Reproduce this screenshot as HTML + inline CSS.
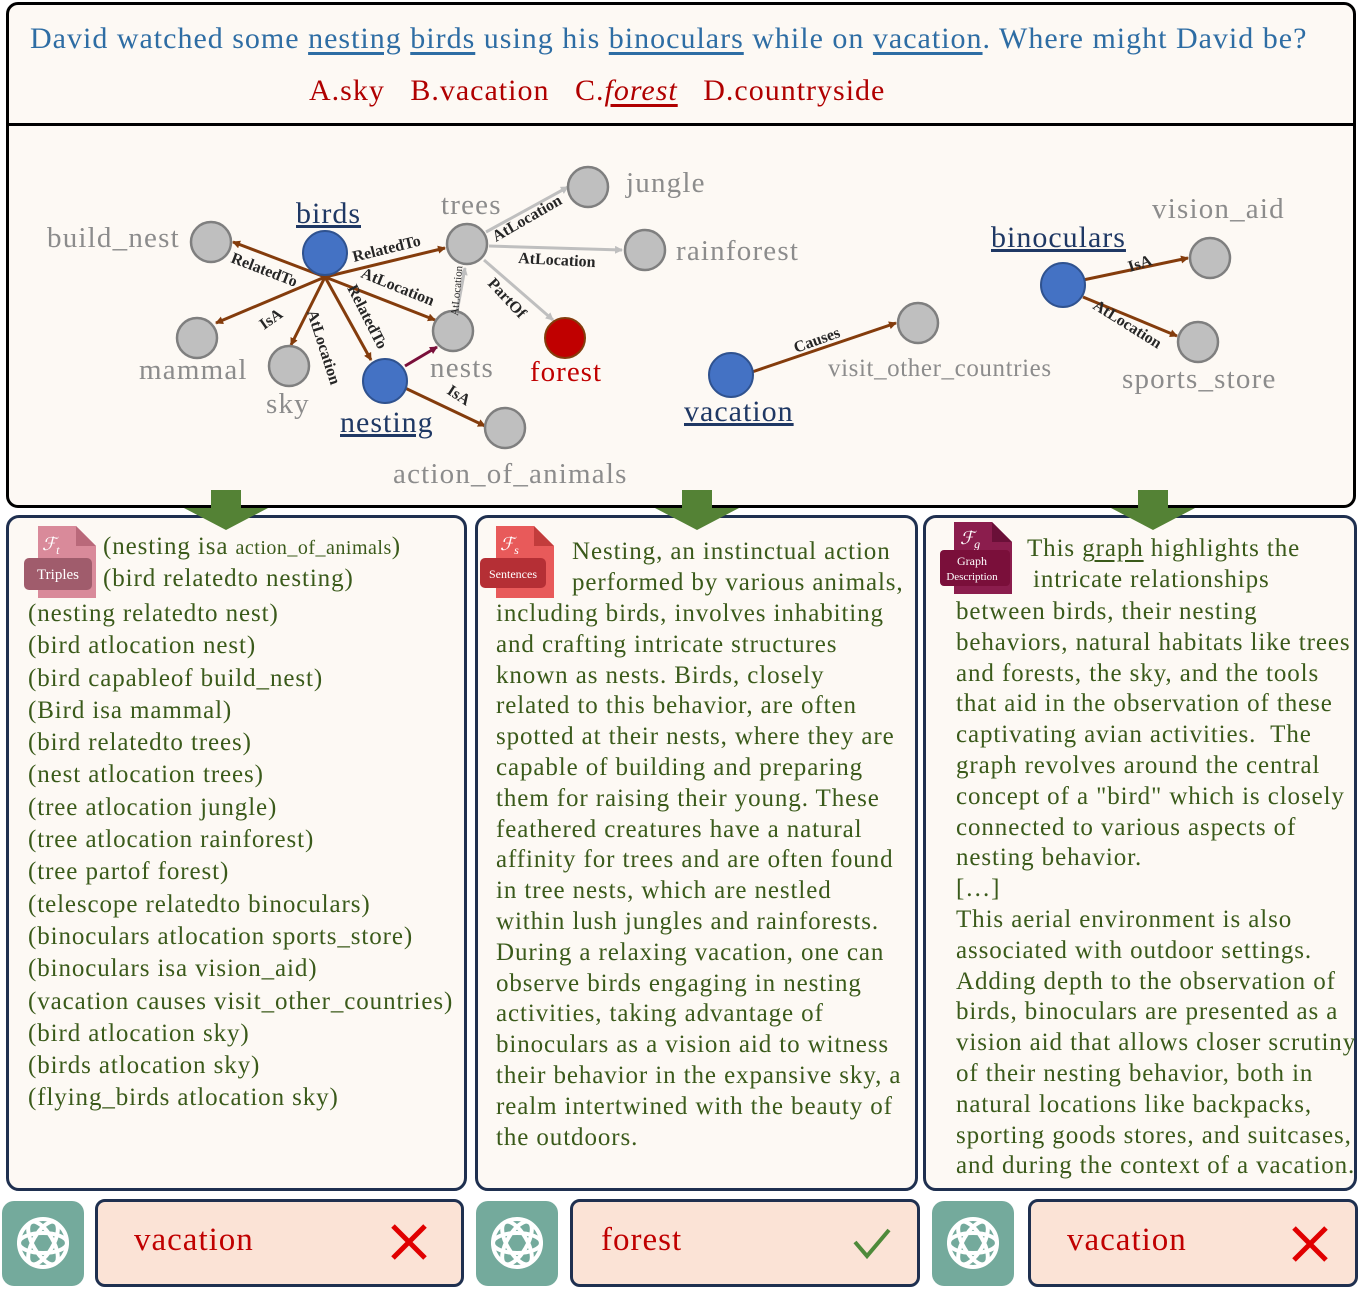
<!DOCTYPE html>
<html><head><meta charset="utf-8"><style>
body{margin:0;width:1360px;height:1294px;background:#fff;position:relative;overflow:hidden;font-family:"Liberation Serif",serif}
.abs{position:absolute}
.panel{position:absolute;border:3px solid #1f3050;border-radius:13px;background:#fdf9f4;box-sizing:border-box}
.ln{position:absolute;white-space:nowrap;color:#3a5a1a;font-size:25px;letter-spacing:0.9px}
.ans{position:absolute;border:3px solid #1f3050;border-radius:10px;background:#fbe3d6;box-sizing:border-box;height:88px;top:1199px}
.ans span{position:absolute;left:36px;top:20px;font-size:33px;letter-spacing:1px;color:#c00000}
.u{text-decoration:underline;text-underline-offset:4px}
</style></head><body>
<div class="abs" style="left:6px;top:2px;width:1350px;height:506px;border:3px solid #000;border-radius:12px;background:#fdf9f4;box-sizing:border-box"></div>
<div class="abs" style="left:6px;top:123px;width:1350px;height:3px;background:#000"></div>
<div class="abs" style="left:30px;top:22px;font-size:30px;letter-spacing:1px;color:#2e6da4;white-space:nowrap">David watched some <span class="u">nesting</span> <span class="u">birds</span> using his <span class="u">binoculars</span> while on <span class="u">vacation</span>. Where might David be?</div>
<div class="abs" style="left:309px;top:74px;font-size:30px;letter-spacing:1px;color:#b00000;white-space:nowrap">A.sky&nbsp;&nbsp;&nbsp;B.vacation&nbsp;&nbsp;&nbsp;C.<i class="u">forest</i>&nbsp;&nbsp;&nbsp;D.countryside</div>

<svg class="abs" style="left:0;top:0" width="1360" height="540" viewBox="0 0 1360 540">
<defs>
<marker id="mb" markerWidth="8" markerHeight="8" refX="7" refY="4" orient="auto" markerUnits="userSpaceOnUse"><path d="M0,0L8,4L0,8z" fill="#843c0c"/></marker>
<marker id="mg" markerWidth="8" markerHeight="8" refX="7" refY="4" orient="auto" markerUnits="userSpaceOnUse"><path d="M0,0L8,4L0,8z" fill="#bfbfbf"/></marker>
<marker id="mp" markerWidth="8" markerHeight="8" refX="7" refY="4" orient="auto" markerUnits="userSpaceOnUse"><path d="M0,0L8,4L0,8z" fill="#7a0f3a"/></marker>
</defs>
<g stroke="#843c0c" stroke-width="3" marker-end="url(#mb)">
<line x1="325" y1="277" x2="233" y2="242"/>
<line x1="325" y1="277" x2="216" y2="323"/>
<line x1="325" y1="277" x2="291" y2="345"/>
<line x1="325" y1="277" x2="371" y2="360"/>
<line x1="325" y1="277" x2="435" y2="320"/>
<line x1="325" y1="277" x2="445" y2="248"/>
<line x1="405" y1="388" x2="485" y2="426"/>
<line x1="752" y1="372" x2="896" y2="323"/>
<line x1="1083" y1="280" x2="1188" y2="258"/>
<line x1="1083" y1="297" x2="1177" y2="336"/>
</g>
<line x1="405" y1="366" x2="437" y2="347" stroke="#7a0f3a" stroke-width="3" marker-end="url(#mp)"/>
<g stroke="#bfbfbf" stroke-width="3" marker-end="url(#mg)">
<line x1="486" y1="232" x2="568" y2="187"/>
<line x1="489" y1="246" x2="622" y2="250"/>
<line x1="484" y1="260" x2="553" y2="320"/>
<line x1="457" y1="312" x2="465" y2="268"/>
</g>
<g stroke="#7f7f7f" stroke-width="2.5" fill="#bfbfbf">
<circle cx="211" cy="242" r="20"/><circle cx="197" cy="338" r="20"/><circle cx="289" cy="366" r="20"/>
<circle cx="453" cy="331" r="20"/><circle cx="467" cy="244" r="20"/><circle cx="588" cy="187" r="20"/>
<circle cx="645" cy="250" r="20"/><circle cx="505" cy="428" r="20"/><circle cx="918" cy="323" r="20"/>
<circle cx="1210" cy="258" r="20"/><circle cx="1198" cy="342" r="20"/>
</g>
<g stroke="#2f528f" stroke-width="2" fill="#4472c4">
<circle cx="325" cy="253" r="22"/><circle cx="385" cy="381" r="22"/><circle cx="731" cy="375" r="22"/><circle cx="1063" cy="285" r="22"/>
</g>
<circle cx="565" cy="338" r="20" fill="#c00000" stroke="#843c0c" stroke-width="2"/>
<g font-family="Liberation Serif,serif" font-weight="bold" font-size="16" fill="#262626">
<text transform="translate(230,262) rotate(21)">RelatedTo</text>
<text transform="translate(264,330) rotate(-35)">IsA</text>
<text transform="translate(307,312) rotate(72)">AtLocation</text>
<text transform="translate(347,288) rotate(63)">RelatedTo</text>
<text transform="translate(360,277) rotate(22)">AtLocation</text>
<text transform="translate(354,262) rotate(-14)">RelatedTo</text>
<text transform="translate(446,393) rotate(33)">IsA</text>
<text transform="translate(496,242) rotate(-30)">AtLocation</text>
<text transform="translate(518,263) rotate(3)">AtLocation</text>
<text transform="translate(487,284) rotate(47)">PartOf</text>
<text transform="translate(796,353) rotate(-20)">Causes</text>
<text transform="translate(1130,272) rotate(-18)">IsA</text>
<text transform="translate(1092,308) rotate(32)">AtLocation</text>
</g>
<text transform="translate(458,316) rotate(-85)" font-family="Liberation Serif,serif" font-size="11" fill="#262626">AtLocation</text>
<g font-family="Liberation Serif,serif" font-size="29" letter-spacing="1.2" fill="#8c8c8c">
<text x="47" y="247">build_nest</text><text x="441" y="214">trees</text><text x="626" y="192">jungle</text>
<text x="676" y="260">rainforest</text><text x="139" y="379">mammal</text><text x="266" y="413">sky</text>
<text x="430" y="377">nests</text><text x="393" y="483">action_of_animals</text>
<text x="828" y="376" font-size="25" letter-spacing="0.6">visit_other_countries</text>
<text x="1152" y="218">vision_aid</text><text x="1122" y="388">sports_store</text>
</g>
<text x="530" y="381" font-family="Liberation Serif,serif" font-size="29" letter-spacing="1" fill="#c00000">forest</text>
<g font-family="Liberation Serif,serif" font-size="30" letter-spacing="1" fill="#1f3864" text-decoration="underline">
<text x="296" y="223">birds</text><text x="340" y="432">nesting</text><text x="684" y="421">vacation</text><text x="991" y="247">binoculars</text>
</g>
</svg>

<div class="panel" style="left:6px;top:515px;width:461px;height:676px"></div>
<div class="panel" style="left:475px;top:515px;width:443px;height:676px"></div>
<div class="panel" style="left:923px;top:515px;width:434px;height:676px"></div>

<svg class="abs" style="left:0;top:488px" width="1360" height="45">
<g fill="#548235">
<path d="M211,2h30v18h27l-42,22l-42,-22h27z"/>
<path d="M682,2h30v18h27l-42,22l-42,-22h27z"/>
<path d="M1138,2h30v18h27l-42,22l-42,-22h27z"/>
</g>
</svg>

<svg class="abs" style="left:20px;top:526px" width="80" height="76">
<path d="M18,0h38l20,20v52h-58z" fill="#d98a9a"/><path d="M56,0v20h20z" fill="#b9697a"/>
<text x="22" y="24" font-family="Liberation Serif,serif" font-style="italic" font-size="18" fill="#fff">ℱ<tspan font-size="12" dy="4">t</tspan></text>
<rect x="4" y="32" width="68" height="32" rx="5" fill="#a05c6c"/>
<text x="38" y="53" text-anchor="middle" font-family="Liberation Serif,serif" font-size="15" fill="#fff">Triples</text>
</svg>
<svg class="abs" style="left:480px;top:526px" width="80" height="76">
<path d="M16,0h38l20,20v52h-58z" fill="#e85a5a"/><path d="M54,0v20h20z" fill="#c23c3c"/>
<text x="20" y="24" font-family="Liberation Serif,serif" font-style="italic" font-size="18" fill="#fff">ℱ<tspan font-size="12" dy="4">s</tspan></text>
<rect x="0" y="32" width="66" height="30" rx="5" fill="#b52f35"/>
<text x="33" y="52" text-anchor="middle" font-family="Liberation Serif,serif" font-size="12" fill="#fff">Sentences</text>
</svg>
<svg class="abs" style="left:938px;top:522px" width="80" height="76">
<path d="M16,0h38l20,20v52h-58z" fill="#8b1d4d"/><path d="M54,0v20h20z" fill="#6a1038"/>
<text x="22" y="22" font-family="Liberation Serif,serif" font-style="italic" font-size="18" fill="#fff">ℱ<tspan font-size="12" dy="4">g</tspan></text>
<rect x="2" y="28" width="70" height="36" rx="4" fill="#7a0f3a"/>
<text x="34" y="43" text-anchor="middle" font-family="Liberation Serif,serif" font-size="12" fill="#fff">Graph</text>
<text x="34" y="58" text-anchor="middle" font-family="Liberation Serif,serif" font-size="11" fill="#fff">Description</text>
</svg>

<div class="ln" style="left:103px;top:533px">(nesting isa <span style="font-size:20px;letter-spacing:0.5px">action_of_animals</span>)</div>
<div class="ln" style="left:103px;top:565px">(bird relatedto nesting)</div>
<div class="ln" style="left:28px;top:598px;line-height:32.3px">(nesting relatedto nest)<br>(bird atlocation nest)<br>(bird capableof build_nest)<br>(Bird isa mammal)<br>(bird relatedto trees)<br>(nest atlocation trees)<br>(tree atlocation jungle)<br>(tree atlocation rainforest)<br>(tree partof forest)<br>(telescope relatedto binoculars)<br>(binoculars atlocation sports_store)<br>(binoculars isa vision_aid)<br>(vacation causes visit_other_countries)<br>(bird atlocation sky)<br>(birds atlocation sky)<br>(flying_birds atlocation sky)</div>

<div class="ln" style="left:572px;top:537px;line-height:30.8px">Nesting, an instinctual action<br>performed by various animals,</div>
<div class="ln" style="left:496px;top:599px;line-height:30.8px">including birds, involves inhabiting<br>and crafting intricate structures<br>known as nests. Birds, closely<br>related to this behavior, are often<br>spotted at their nests, where they are<br>capable of building and preparing<br>them for raising their young. These<br>feathered creatures have a natural<br>affinity for trees and are often found<br>in tree nests, which are nestled<br>within lush jungles and rainforests.<br>During a relaxing vacation, one can<br>observe birds engaging in nesting<br>activities, taking advantage of<br>binoculars as a vision aid to witness<br>their behavior in the expansive sky, a<br>realm intertwined with the beauty of<br>the outdoors.</div>

<div class="ln" style="left:1027px;top:535px">This <span class="u">graph</span> highlights the</div>
<div class="ln" style="left:1033px;top:566px">intricate relationships</div>
<div class="ln" style="left:956px;top:597px;line-height:30.8px">between birds, their nesting<br>behaviors, natural habitats like trees<br>and forests, the sky, and the tools<br>that aid in the observation of these<br>captivating avian activities.&nbsp; The<br>graph revolves around the central<br>concept of a "bird" which is closely<br>connected to various aspects of<br>nesting behavior.<br>[…]<br>This aerial environment is also<br>associated with outdoor settings.<br>Adding depth to the observation of<br>birds, binoculars are presented as a<br>vision aid that allows closer scrutiny<br>of their nesting behavior, both in<br>natural locations like backpacks,<br>sporting goods stores, and suitcases,<br>and during the context of a vacation.</div>

<svg class="abs" style="left:0;top:1198px" width="1360" height="96">
<g fill="#74aa9c"><rect x="2" y="3" width="82" height="85" rx="12"/><rect x="476" y="3" width="82" height="85" rx="12"/><rect x="932" y="3" width="82" height="85" rx="12"/></g>
<g fill="none" stroke="#fff" stroke-width="4">
<g transform="translate(43,45)"><circle r="24"/><ellipse rx="10" ry="24" transform="rotate(30)"/><ellipse rx="10" ry="24" transform="rotate(-30)"/><ellipse rx="10" ry="24" transform="rotate(90)"/></g>
<g transform="translate(517,45)"><circle r="24"/><ellipse rx="10" ry="24" transform="rotate(30)"/><ellipse rx="10" ry="24" transform="rotate(-30)"/><ellipse rx="10" ry="24" transform="rotate(90)"/></g>
<g transform="translate(973,45)"><circle r="24"/><ellipse rx="10" ry="24" transform="rotate(30)"/><ellipse rx="10" ry="24" transform="rotate(-30)"/><ellipse rx="10" ry="24" transform="rotate(90)"/></g>
</g>
</svg>
<div class="ans" style="left:95px;width:369px"><span>vacation</span></div>
<div class="ans" style="left:570px;width:350px"><span style="left:28px">forest</span></div>
<div class="ans" style="left:1028px;width:330px"><span>vacation</span></div>
<svg class="abs" style="left:0;top:1198px" width="1360" height="96">
<g stroke="#e00000" stroke-width="5"><path d="M393,28l32,32M425,28l-32,32"/><path d="M1294,30l32,32M1326,30l-32,32"/></g>
<path d="M855,44l12,14l22,-26" fill="none" stroke="#4e8a3a" stroke-width="4"/>
</svg>
</body></html>
